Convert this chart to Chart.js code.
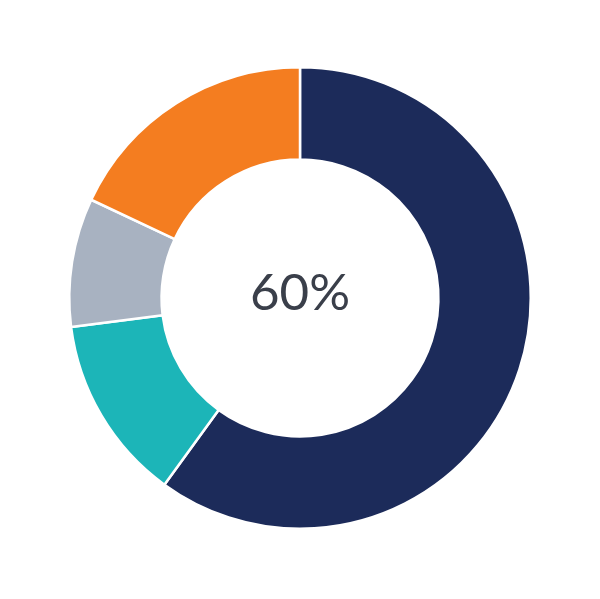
<!DOCTYPE html>
<html><head><meta charset="utf-8">
<script src="https://cdn.jsdelivr.net/npm/chart.js@4/dist/chart.umd.min.js"></script>
<style>html,body{margin:0;padding:0;background:#fff;}#wrap{position:relative;width:600px;height:599px;}</style>
</head><body>
<div id="wrap"><canvas id="c" width="600" height="599"></canvas></div>
<script>
const categories = ["A", "B", "C", "D"];
const values = [60, 13, 9, 18];
const colors = ["#1c2b5a", "#1cb5b8", "#a8b2c1", "#f47d20"];
const centerLabel = "60%";

const centerText = {
  id: 'centerText',
  afterDraw(chart) {
    const {ctx} = chart;
    const meta = chart.getDatasetMeta(0).data[0];
    ctx.save();
    ctx.font = '400 51px Lato';
    ctx.fillStyle = '#3a3f4a';
    ctx.textAlign = 'center';
    ctx.textBaseline = 'middle';
    ctx.fillText(centerLabel, meta.x, meta.y - 4);
    ctx.restore();
  }
};

new Chart(document.getElementById('c'), {
  type: 'doughnut',
  data: { labels: categories, datasets: [{ data: values, backgroundColor: colors, borderColor: '#ffffff', borderWidth: 2.5 }] },
  options: {
    responsive: false, animation: false,
    cutout: '60%',
    layout: { padding: { top: 66, bottom: 69, left: 68, right: 68 } },
    plugins: { legend: { display: false }, tooltip: { enabled: false } }
  },
  plugins: [centerText]
});
</script>
</body></html>
